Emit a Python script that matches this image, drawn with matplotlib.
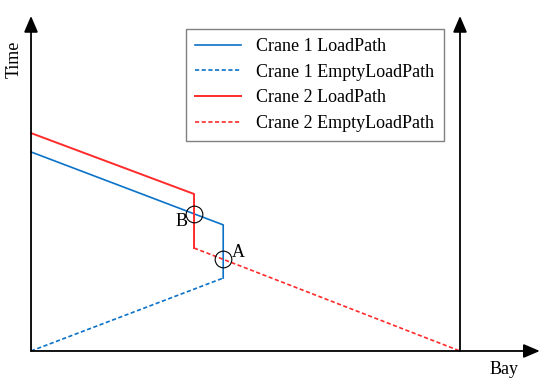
import numpy as np
import matplotlib
matplotlib.use("Agg")
import matplotlib.pyplot as plt

plt.rcParams['font.family'] = ['Liberation Serif', 'DejaVu Serif']

# Path data (Bay on x, Time on y)
crane1_load_x = [0, 44.8, 44.8]
crane1_load_y = [46.4, 29.4, 17.0]
crane1_empty_x = [0, 44.8]
crane1_empty_y = [0, 17.0]
crane2_load_x = [0, 38.0, 38.0]
crane2_load_y = [50.8, 36.6, 24.0]
crane2_empty_x = [38.0, 100]
crane2_empty_y = [24.0, 0]

labels = ['Crane 1 LoadPath', 'Crane 1 EmptyLoadPath',
          'Crane 2 LoadPath', 'Crane 2 EmptyLoadPath']
blue = '#0a72c8'
red = '#ff2b2b'

fig = plt.figure(figsize=(5.5, 3.89), dpi=100)
ax = fig.add_axes([0, 0, 1, 1])
ax.set_xlim(-7.23, 120.98)
ax.set_ylim(-8.86, 81.82)
ax.axis('off')

# axes drawn as arrows
arrow = dict(arrowstyle='-|>,head_length=0.7,head_width=0.3', color='black',
             lw=1.3, shrinkA=0, shrinkB=0, mutation_scale=14)
ax.annotate('', xy=(0, 78.1), xytext=(0, 0), arrowprops=arrow)
ax.annotate('', xy=(118.6, 0), xytext=(0, 0), arrowprops=arrow)
ax.annotate('', xy=(100, 78.1), xytext=(100, 0), arrowprops=arrow)

ax.plot(crane1_load_x, crane1_load_y, color=blue, lw=1.2, label=labels[0])
ax.plot(crane1_empty_x, crane1_empty_y, color=blue, lw=1.2,
        ls=(0, (2.5, 1.5)), label=labels[1])
ax.plot(crane2_load_x, crane2_load_y, color=red, lw=1.4, label=labels[2])
ax.plot(crane2_empty_x, crane2_empty_y, color=red, lw=1.2,
        ls=(0, (2.5, 1.5)), label=labels[3])

# conflict points: where each vertical segment meets the other crane's path
ax_x = crane1_load_x[1]
ay = np.interp(ax_x, crane2_empty_x, crane2_empty_y)
bx = crane2_load_x[1]
by = np.interp(bx, crane1_load_x[:2], crane1_load_y[:2])
ax.plot([bx, ax_x], [by, ay], 'o', mfc='none', mec='black', ms=12, mew=0.8)
ax.text(bx - 2.9, by - 1.9, 'B', fontsize=13, ha='center', va='center')
ax.text(ax_x + 3.6, ay + 1.6, 'A', fontsize=13, ha='center', va='center')

ax.text(-3.96, 68.1, 'Time', fontsize=13, rotation=90, ha='center', va='center')
ax.text(110.3, -4.3, 'Bay', fontsize=13, ha='center', va='center')

leg = ax.legend(loc='upper left', bbox_to_anchor=(186 / 550, 1 - 29 / 389),
                bbox_transform=fig.transFigure, borderaxespad=0, fontsize=13,
                handlelength=2.55, handletextpad=0.85, labelspacing=0.48,
                borderpad=0.5, fancybox=False, framealpha=1, edgecolor='#808080')
leg.get_frame().set_linewidth(1.0)

fig.savefig('out.png', dpi=100)
